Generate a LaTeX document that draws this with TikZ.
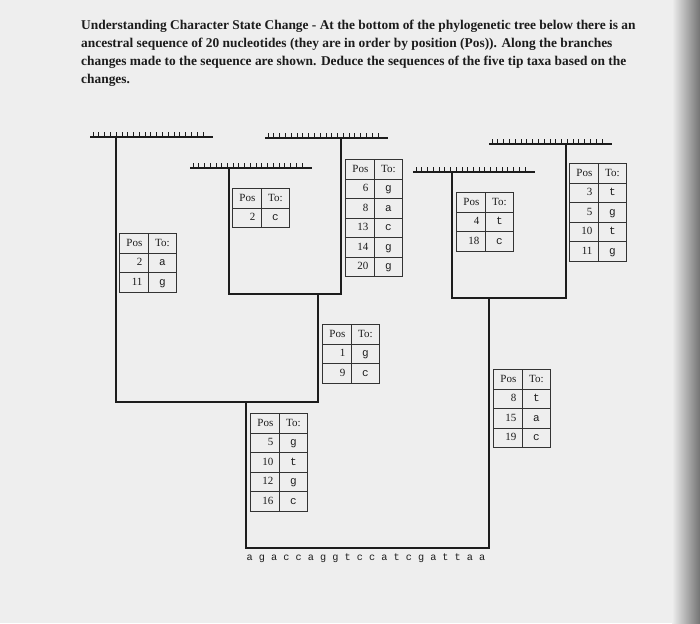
\documentclass[tikz,border=0pt]{standalone}
\usepackage{fontspec}
\setmainfont{Liberation Serif}
\setmonofont{Liberation Mono}
\usetikzlibrary{matrix}
\definecolor{paper}{RGB}{238,238,238}
\definecolor{ink}{RGB}{28,28,28}
\tikzset{
  tree/.style={line width=1.8pt, draw=ink, line cap=rect},
  barline/.style={line width=1.1pt, draw=ink},
  tickline/.style={line width=0.8pt, draw=ink},
  tbl/.style={matrix of nodes, anchor=north west, inner sep=0pt, column sep=-0.8pt, row sep=-0.8pt,
    nodes={draw=ink!90, line width=0.8pt, minimum width=28.5pt, minimum height=19.5pt,
      anchor=center, text height=8pt, text depth=2pt,
      inner sep=0pt, font=\fontsize{11}{11}\selectfont, text=ink},
    column 1/.style={nodes={text width=17pt, align=right}},
    column 2/.style={nodes={font=\fontsize{11}{11}\ttfamily}}},
}
\newcommand\tipbar[3]{%
  \draw[barline] (#1,#3) -- (#2,#3);
  \foreach \i in {0,...,19}
    \draw[tickline] ({#1+3+\i*(#2-#1-13)/19},#3) -- ++(0,-5);
}
\begin{document}
\begin{tikzpicture}[x=1pt,y=-1pt]
\fill[paper] (0,0) rectangle (700,623);
\shade[left color=paper, right color=black!55] (672,0) rectangle (700,623);
\useasboundingbox (0,0) rectangle (700,623);

\node[anchor=north west, align=left, inner sep=0pt, text=ink,
      font=\fontsize{13.4}{18}\selectfont\bfseries] (title) at (81,20)
  {Understanding Character State Change - At the bottom of the phylogenetic tree below there is an\\
   ancestral sequence of 20 nucleotides (they are in order by position (Pos)). Along the branches\\
   changes made to the sequence are shown. Deduce the sequences of the five tip taxa based on the\\
   changes.};

% tip bars
\tipbar{90}{213}{137}
\tipbar{190}{312}{168}
\tipbar{265}{388}{138}
\tipbar{413}{535}{172}
\tipbar{489}{612}{144}

% tree coordinates
\coordinate (t1) at (116,137);
\coordinate (t2) at (229,168);
\coordinate (t3) at (341,138);
\coordinate (t4) at (452,172);
\coordinate (t5) at (566,144);
\coordinate (a) at (318,294);
\coordinate (b) at (489,298);
\coordinate (l) at (246,402);
\coordinate (root) at (367,548);

\draw[tree] (t2) -- (t2|-a) -- (t3|-a) -- (t3);
\draw[tree] (a) -- (a|-l);
\draw[tree] (t1) -- (t1|-l) -- (a|-l);
\draw[tree] (t4) -- (t4|-b) -- (t5|-b) -- (t5);
\draw[tree] (l) -- (l|-root) -- (b|-root) -- (b);

% change tables
\matrix[tbl] (T1) at (119,233) {Pos & \rmfamily To:\\ 2 & a\\ 11 & g\\};
\matrix[tbl] (T2) at (232,188) {Pos & \rmfamily To:\\ 2 & c\\};
\matrix[tbl] (T3) at (345,159) {Pos & \rmfamily To:\\ 6 & g\\ 8 & a\\ 13 & c\\ 14 & g\\ 20 & g\\};
\matrix[tbl] (T4) at (456,192) {Pos & \rmfamily To:\\ 4 & t\\ 18 & c\\};
\matrix[tbl] (T5) at (569,163) {Pos & \rmfamily To:\\ 3 & t\\ 5 & g\\ 10 & t\\ 11 & g\\};
\matrix[tbl] (T6) at (322,324) {Pos & \rmfamily To:\\ 1 & g\\ 9 & c\\};
\matrix[tbl] (T7) at (493,369) {Pos & \rmfamily To:\\ 8 & t\\ 15 & a\\ 19 & c\\};
\matrix[tbl] (T8) at (250,413) {Pos & \rmfamily To:\\ 5 & g\\ 10 & t\\ 12 & g\\ 16 & c\\};

\node[font=\fontsize{10.2}{12}\ttfamily, text=ink, inner sep=0pt] (seq) at (366,558)
  {a g a c c a g g t c c a t c g a t t a a};
\end{tikzpicture}
\end{document}
